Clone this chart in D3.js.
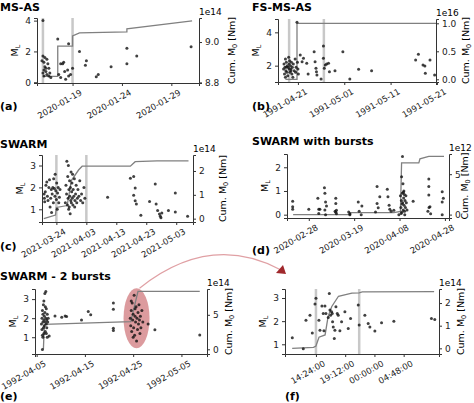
<!DOCTYPE html>
<html>
<head>
<script src="https://cdn.jsdelivr.net/npm/d3@7"></script>
<style>
  body { margin: 0; background: #fff; }
  text { font-family: "DejaVu Sans", sans-serif; }
</style>
</head>
<body>
<script>
// data: [day since base, M_L]; cumulative: [day, value]
var aPts = [[16.0,4.0],[16.0,1.7],[16.2,1.6],[16.4,1.5],[15.9,1.4],[16.5,1.2],[16.2,1.0],[16.6,0.9],[16.1,0.8],[16.3,0.7],[16.0,0.6],[16.4,0.5],[16.1,0.4],[16.6,0.4],[16.8,0.3],[16.7,0.6],[16.3,0.9],[16.1,1.3],
  [17.5,2.8],[17.6,0.5],[17.8,0.3],[17.8,1.2],[18.0,1.2],[18.1,1.3],[18.2,0.7],[18.3,0.2],[18.5,0.8],[18.6,0.4],[18.6,2.5],[18.8,0.5],[19.0,0.9],[19.7,2.0],[20.3,1.1],[20.4,1.4],[21.4,0.35],[21.6,0.5],[22.9,1.0],[24.5,2.2],[24.5,1.2],[25.5,1.7],[31.0,2.3]];
var aCum = [[16.0,8.83],[17.5,8.83],[17.5,8.98],[19.0,8.98],[19.0,9.03],[19.7,9.045],[24.5,9.05],[24.5,9.065],[31.1,9.105]];
var bPts = [[17.9,1.8],[18.0,2.1],[18.1,1.5],[18.2,1.9],[18.3,2.4],[18.4,1.7],[18.5,2.2],[18.6,1.6],[18.7,2.0],[18.8,1.4],[18.9,1.9],[19.0,2.5],[19.1,1.8],[19.2,2.3],[19.3,1.6],[19.4,2.0],[19.5,1.7],[19.6,2.2],[19.7,1.5],[19.8,1.9],[19.9,1.3],[20.0,2.1],[20.2,1.7],[20.4,2.4],[20.5,1.6],[20.6,1.9],[20.8,4.6],[20.9,2.2],[21.0,1.8],[21.1,1.5],[18.5,1.9],[19.1,2.1],[19.5,1.8],[18.3,1.3],
  [21.5,2.64],[21.9,2.24],[22.2,2.44],[22.9,2.14],[23.2,1.5],[24.5,2.84],[24.7,2.24],[24.9,1.84],[25.0,1.64],[25.1,1.44],[26.0,1.2],[26.5,3.18],[26.5,2.44],[26.7,1.84],[26.9,2.04],[27.2,2.1],[27.6,2.14],[27.8,1.64],[29.0,1.7],[30.7,2.84],[32.2,1.2],[34.1,1.78],[36.9,1.7],[46.4,2.34],[47.0,2.68],[48.0,2.04],[48.4,1.98],[48.5,1.54],[49.5,2.34],[50.5,1.44]];
var bCum = [[18.3,0],[20.8,0],[20.8,1.0],[50.8,1.0]];
var cPts = [[19.9,1.7],[20.0,1.5],[20.1,1.35],[20.3,1.8],[20.5,2.1],[20.8,2.25],[21.0,1.6],[21.2,1.4],[21.5,2.0],[21.7,2.35],[21.9,1.1],[22.1,1.5],[22.3,1.9],[22.4,0.85],[22.6,1.7],[22.8,2.0],[23.0,1.3],[23.1,2.4],[23.3,1.95],[23.5,1.6],[23.6,2.6],[23.8,1.85],[24.0,1.45],[24.1,2.2],[24.3,1.0],[24.4,1.75],[24.6,2.0],[24.8,1.3],[25.0,1.55],[25.2,1.9],
  [27.0,1.3],[27.2,2.1],[27.4,1.7],[27.5,3.2],[27.7,1.2],[27.8,2.5],[27.9,1.5],[28.0,3.0],[28.2,1.9],[28.3,1.1],[28.4,2.3],[28.5,1.6],[28.6,0.8],[28.7,2.0],[28.8,1.4],[28.9,2.7],[29.0,1.3],[29.1,1.8],[29.2,2.2],[29.3,1.5],[29.5,1.2],[29.6,1.9],[29.8,1.6],[30.0,2.4],[30.2,1.4],[30.4,1.7],[30.6,2.1],[30.8,1.3],[31.0,1.5],[31.2,1.9],[31.5,1.6],[31.8,2.3],[32.1,1.4],[32.4,1.7],[32.8,1.3],[33.2,2.0],[33.5,1.5],[29.4,2.6],[28.1,1.0],[30.1,1.1],
  [41.1,1.55],[48.7,2.42],[49.8,2.5],[50.3,1.97],[49.8,1.64],[50.3,1.39],[50.7,1.24],[52.2,0.73],[55.1,1.36],[57.0,2.15],[57.3,1.24],[57.8,0.94],[58.4,0.79],[58.7,0.68],[58.9,0.61],[59.2,0.83],[61.4,0.94],[63.7,1.74],[63.7,0.88],[67.8,0.68]];
var cCum = [[19.8,0],[23.7,0.15],[24.0,0.47],[27.6,0.55],[29.0,1.6],[31.4,2.04],[32.6,2.2],[48.7,2.2],[50.3,2.39],[57.6,2.42],[68.1,2.42]];
var dPts = [[-7.1,0.57],[-7.1,0.33],[-7.1,0.23],[0,0.23],[4.0,0.69],[4.4,0.23],[4.9,0.23],[4.4,0.05],[6.9,1.14],[7.1,0.9],[7.4,0.54],[7.8,0.37],[7.4,0.0],[7.1,0.2],[11.6,0.15],[11.9,0.69],[11.9,0.47],[12.2,0.19],[12.2,0.04],[11.9,0.1],[17.6,0.11],[18.1,0.04],[18.1,0.0],[21.8,0.54],[22.2,0.14],[23.4,0.37],[23.1,0.0],[29.4,0.11],[30.1,1.19],[30.1,0.47],[30.6,0.29],[31.3,0.76],[34.6,1.07],[34.9,0.76],[35.4,0.4],[35.7,0.23],[36.3,0.14],[37.5,0.19],[39.7,0.0],
  [40.4,0.8],[40.6,0.3],[40.8,0.6],[40.9,1.6],[41.0,0.1],[41.2,0.9],[41.3,2.45],[41.4,0.5],[41.5,1.3],[41.6,0.2],[41.8,0.7],[41.9,1.0],[42.0,0.4],[42.1,0.85],[42.3,0.0],[42.4,0.6],[42.6,0.3],[42.8,0.8],[43.0,0.5],[43.3,0.2],[40.7,0.05],[41.1,0.45],[41.7,0.95],[42.2,0.15],
  [46.0,0.57],[52.9,1.51],[52.9,1.19],[52.9,0.83],[53.4,0.33],[52.5,0.14],[53.7,0.04],[53.0,0.3],[58.8,0.97],[59.3,0.69],[58.8,0.54],[58.8,0.0]];
var dCum = [[-6.9,0],[18.4,0],[18.4,0.25],[37.5,0.25],[40.4,0.4],[40.9,6.4],[48.5,6.4],[49.0,6.9],[52.9,7.2],[59.6,7.2]];
var ePts = [[6.0,1.7],[6.1,2.0],[6.1,1.4],[6.2,2.4],[6.2,1.1],[6.3,1.8],[6.3,2.2],[6.4,1.5],[6.4,2.7],[6.5,1.9],[6.5,1.2],[6.6,2.1],[6.6,1.6],[6.7,3.3],[6.7,2.3],[6.8,1.8],[6.8,1.3],[6.9,3.4],[6.9,2.0],[7.0,1.7],[7.0,2.5],[7.1,1.9],[7.1,1.5],[7.2,2.2],[7.2,1.0],[7.3,1.8],[7.4,2.0],[6.2,0.35],[6.5,2.9],[6.8,2.6],[6.3,1.0],[7.0,1.2],
  [7.6,1.07],[8.8,2.12],[10.2,2.05],[10.9,2.12],[11.2,2.09],[14.3,1.91],[15.7,2.35],[16.2,2.18],[20.9,2.79],[20.9,2.47],[20.9,1.47],[20.9,1.35],[28.1,1.7],[29.5,1.39],[38.8,1.12],
  [24.4,2.0],[24.5,1.6],[24.6,2.4],[24.7,1.3],[24.8,2.8],[24.9,1.9],[25.0,2.2],[25.1,1.5],[25.2,3.2],[25.3,1.1],[25.4,2.1],[25.5,1.8],[25.6,2.6],[25.7,0.8],[25.8,2.0],[25.9,1.4],[26.0,2.3],[26.1,1.7],[26.2,2.7],[26.3,1.9],[26.5,2.1],[26.6,1.5],[26.8,2.4],[27.0,1.8],[25.0,1.0],[24.6,2.9],[25.4,2.5],[26.4,1.2]];
var eCum = [[6.4,0],[6.6,3.6],[24.5,4.0],[26.0,8.4],[38.8,8.4]];
// panel f: hours since midnight
var fPts = [[10.52,1.28],[12.32,0.81],[12.76,2.04],[13.42,2.26],[13.8,1.49],[14.24,2.74],[14.4,2.99],[14.89,2.04],[15.06,1.61],[15.38,2.65],[15.6,2.33],[15.71,1.58],[15.88,2.65],[16.04,2.33],[16.42,2.16],[16.59,3.2],[16.7,2.48],[16.8,2.26],[16.97,2.41],[17.08,2.33],[17.13,1.97],[17.24,1.75],[17.41,1.25],[17.51,1.61],[17.68,2.62],[17.9,2.33],[18.06,2.26],[18.33,1.58],[18.61,1.97],[19.15,2.41],[19.7,1.68],[20.08,2.12],[21.34,2.7],[21.5,1.83],[22.43,2.26],[22.98,1.9],[23.25,1.75],[24.07,1.57],[25.17,1.93],[27.19,2.0],[33.36,2.12],[33.9,2.07]];
var fCum = [[10.5,0],[14.0,0.04],[14.4,0.1],[14.9,0.49],[15.9,0.59],[16.4,1.41],[17.0,1.85],[18.1,2.3],[20.3,2.44],[21.5,2.45],[22.0,2.49],[33.8,2.5]];

var svg = d3.select('body').append('svg').attr('width', 474).attr('height', 403);
var DAY = 864e5, HOUR = 36e5;

function panel(o) {
    var g = svg.append('g');
    var t = function (v) { return new Date(o.base + v * o.unit); };
    var x = d3.scaleUtc().domain([t(o.xd[0]), t(o.xd[1])]).range([o.L, o.R]);
    var y = d3.scaleLinear().domain(o.yd).range([o.B, o.T]);
    var y2 = d3.scaleLinear().domain(o.y2d).range([o.B, o.T]);

    o.vlines.forEach(function (v) {
        g.append('line').attr('x1', x(t(v))).attr('x2', x(t(v))).attr('y1', o.T).attr('y2', o.B)
            .attr('stroke', '#c8c8c8').attr('stroke-width', 2.5);
    });
    g.append('path').datum(o.cum)
        .attr('d', d3.line().x(function (d) { return x(t(d[0])); }).y(function (d) { return y2(d[1]); }))
        .attr('fill', 'none').attr('stroke', '#808080').attr('stroke-width', 1.3);
    g.selectAll('circle.p').data(o.pts).enter().append('circle')
        .attr('cx', function (d) { return x(t(d[0])); }).attr('cy', function (d) { return y(d[1]); })
        .attr('r', 1.5).attr('fill', '#111').attr('fill-opacity', 0.8);

    var xa = g.append('g').attr('transform', 'translate(0,' + o.B + ')')
        .call(d3.axisBottom(x).tickValues(o.xt.map(t)).tickFormat(o.xf).tickSize(3));
    xa.selectAll('text').attr('transform', 'translate(5,0) rotate(-30)').attr('text-anchor', 'end')
        .attr('dx', '-0.2em').attr('dy', '0.7em');
    g.append('g').attr('transform', 'translate(' + o.L + ',0)')
        .call(d3.axisLeft(y).tickValues(o.yt).tickFormat(d3.format('d')).tickSize(3));
    g.append('g').attr('transform', 'translate(' + o.R + ',0)')
        .call(d3.axisRight(y2).tickValues(o.y2t).tickFormat(o.y2f).tickSize(3));
    g.selectAll('.domain').attr('stroke', '#333');
    g.selectAll('.tick line').attr('stroke', '#333');
    g.selectAll('.tick text').attr('fill', '#222').style('font-size', '9px');
    xa.selectAll('.tick text').style('font-size', '8.5px');

    var ym = (o.T + o.B) / 2;
    g.append('text').attr('transform', 'translate(' + (o.L - 19) + ',' + ym + ') rotate(-90)')
        .attr('text-anchor', 'middle').style('font-size', '9.5px')
        .html('M<tspan dy="2" style="font-size:6.5px">L</tspan>');
    g.append('text').attr('transform', 'translate(' + (o.R + o.rl) + ',' + ym + ') rotate(-90)')
        .attr('text-anchor', 'middle').style('font-size', '9.5px')
        .html('Cum. M<tspan dy="2" style="font-size:6.5px">0</tspan><tspan dy="-2"> [Nm]</tspan>');
    g.append('text').attr('x', o.R).attr('y', o.T - 3).style('font-size', '9px').text(o.exp);
    if (o.title) g.append('text').attr('x', o.tx).attr('y', o.ty).style('font-size', '11px')
        .style('font-weight', 'bold').text(o.title);
    g.append('text').attr('x', o.lx).attr('y', o.ly).style('font-size', '11px')
        .style('font-weight', 'bold').text(o.letter);
    return { x: x, y: y, t: t, g: g };
}

var fd = d3.utcFormat('%Y-%m-%d');

panel({ base: Date.UTC(2020, 0, 0), unit: DAY, L: 37, R: 199, T: 18, B: 83, xd: [15.4, 31.8],
    yd: [-0.05, 4.17], y2d: [8.797, 9.119], xt: [19, 24, 29], xf: fd, yt: [0, 2, 4], y2t: [8.8, 9.0],
    y2f: d3.format('.1f'), pts: aPts, cum: aCum, vlines: [16.0, 19.0], exp: '1e14', rl: 36,
    title: 'MS-AS', tx: 0, ty: 11, letter: '(a)', lx: 0, ly: 110 });

panel({ base: Date.UTC(1991, 3, 0), unit: DAY, L: 278, R: 436, T: 19, B: 82, xd: [16.7, 50.8],
    yd: [1.02, 4.8], y2d: [-0.048, 1.077], xt: [21, 31, 41, 51], xf: fd, yt: [2, 4], y2t: [0, 0.5, 1.0],
    y2f: d3.format('.1f'), pts: bPts, cum: bCum, vlines: [19.1, 26.6], exp: '1e16', rl: 33,
    title: 'FS-MS-AS', tx: 252, ty: 11, letter: '(b)', lx: 252, ly: 110 });

panel({ base: Date.UTC(2021, 2, 0), unit: DAY, L: 42, R: 193, T: 155, B: 222, xd: [19.2, 69.6],
    yd: [0.42, 3.48], y2d: [-0.14, 2.67], xt: [24, 34, 44, 54, 64], xf: fd, yt: [1, 2, 3], y2t: [0, 1, 2],
    y2f: d3.format('d'), pts: cPts, cum: cCum, vlines: [24.0, 34.0], exp: '1e14', rl: 33,
    title: 'SWARM', tx: 0, ty: 148, letter: '(c)', lx: 0, ly: 250 });

panel({ base: Date.UTC(2020, 1, 28), unit: DAY, L: 287, R: 449, T: 154, B: 218, xd: [-9.6, 61.8],
    yd: [-0.14, 2.56], y2d: [-0.42, 7.5], xt: [0, 20, 40, 60], xf: fd, yt: [0, 1, 2], y2t: [0, 5],
    y2f: d3.format('d'), pts: dPts, cum: dCum, vlines: [], exp: '1e12', rl: 19,
    title: 'SWARM with bursts', tx: 252, ty: 145, letter: '(d)', lx: 252, ly: 254 });

var pe = panel({ base: Date.UTC(1992, 3, 0), unit: DAY, L: 35, R: 207, T: 289, B: 354, xd: [4.66, 40.3],
    yd: [0.12, 3.53], y2d: [-0.68, 8.74], xt: [5, 15, 25, 35], xf: fd, yt: [1, 2, 3], y2t: [0, 5],
    y2f: d3.format('d'), pts: ePts, cum: eCum, vlines: [], exp: '1e14', rl: 25,
    title: 'SWARM - 2 bursts', tx: 0, ty: 280, letter: '(e)', lx: 0, ly: 400 });

panel({ base: Date.UTC(1992, 3, 24), unit: HOUR, L: 285, R: 439, T: 289, B: 354, xd: [9.32, 34.6],
    yd: [0.58, 3.39], y2d: [-0.25, 2.62], xt: [14.4, 19.2, 24, 28.8], xf: d3.utcFormat('%H:%M:%S'),
    yt: [1, 2, 3], y2t: [0, 1, 2], y2f: d3.format('d'), pts: fPts, cum: fCum, vlines: [14.4, 21.5],
    exp: '1e14', rl: 25, title: null, letter: '(f)', lx: 285, ly: 400 });

// highlight of the second burst in (e) and arrow to (f)
var ex = pe.x(pe.t(25.7)), ey = pe.y(2.0);
pe.g.insert('ellipse', ':first-child').attr('cx', ex).attr('cy', ey).attr('rx', 13).attr('ry', 30)
    .attr('fill', '#c0484e').attr('fill-opacity', 0.55);
svg.append('path').attr('d', 'M' + (ex + 3) + ',' + (ey - 30) + ' Q210,232 281,270')
    .attr('fill', 'none').attr('stroke', '#e0a0a4').attr('stroke-width', 1.2);
svg.append('path').attr('d', 'M286,274 L276,273 L283,265 Z').attr('fill', '#a0282c');
</script>
</body>
</html>
